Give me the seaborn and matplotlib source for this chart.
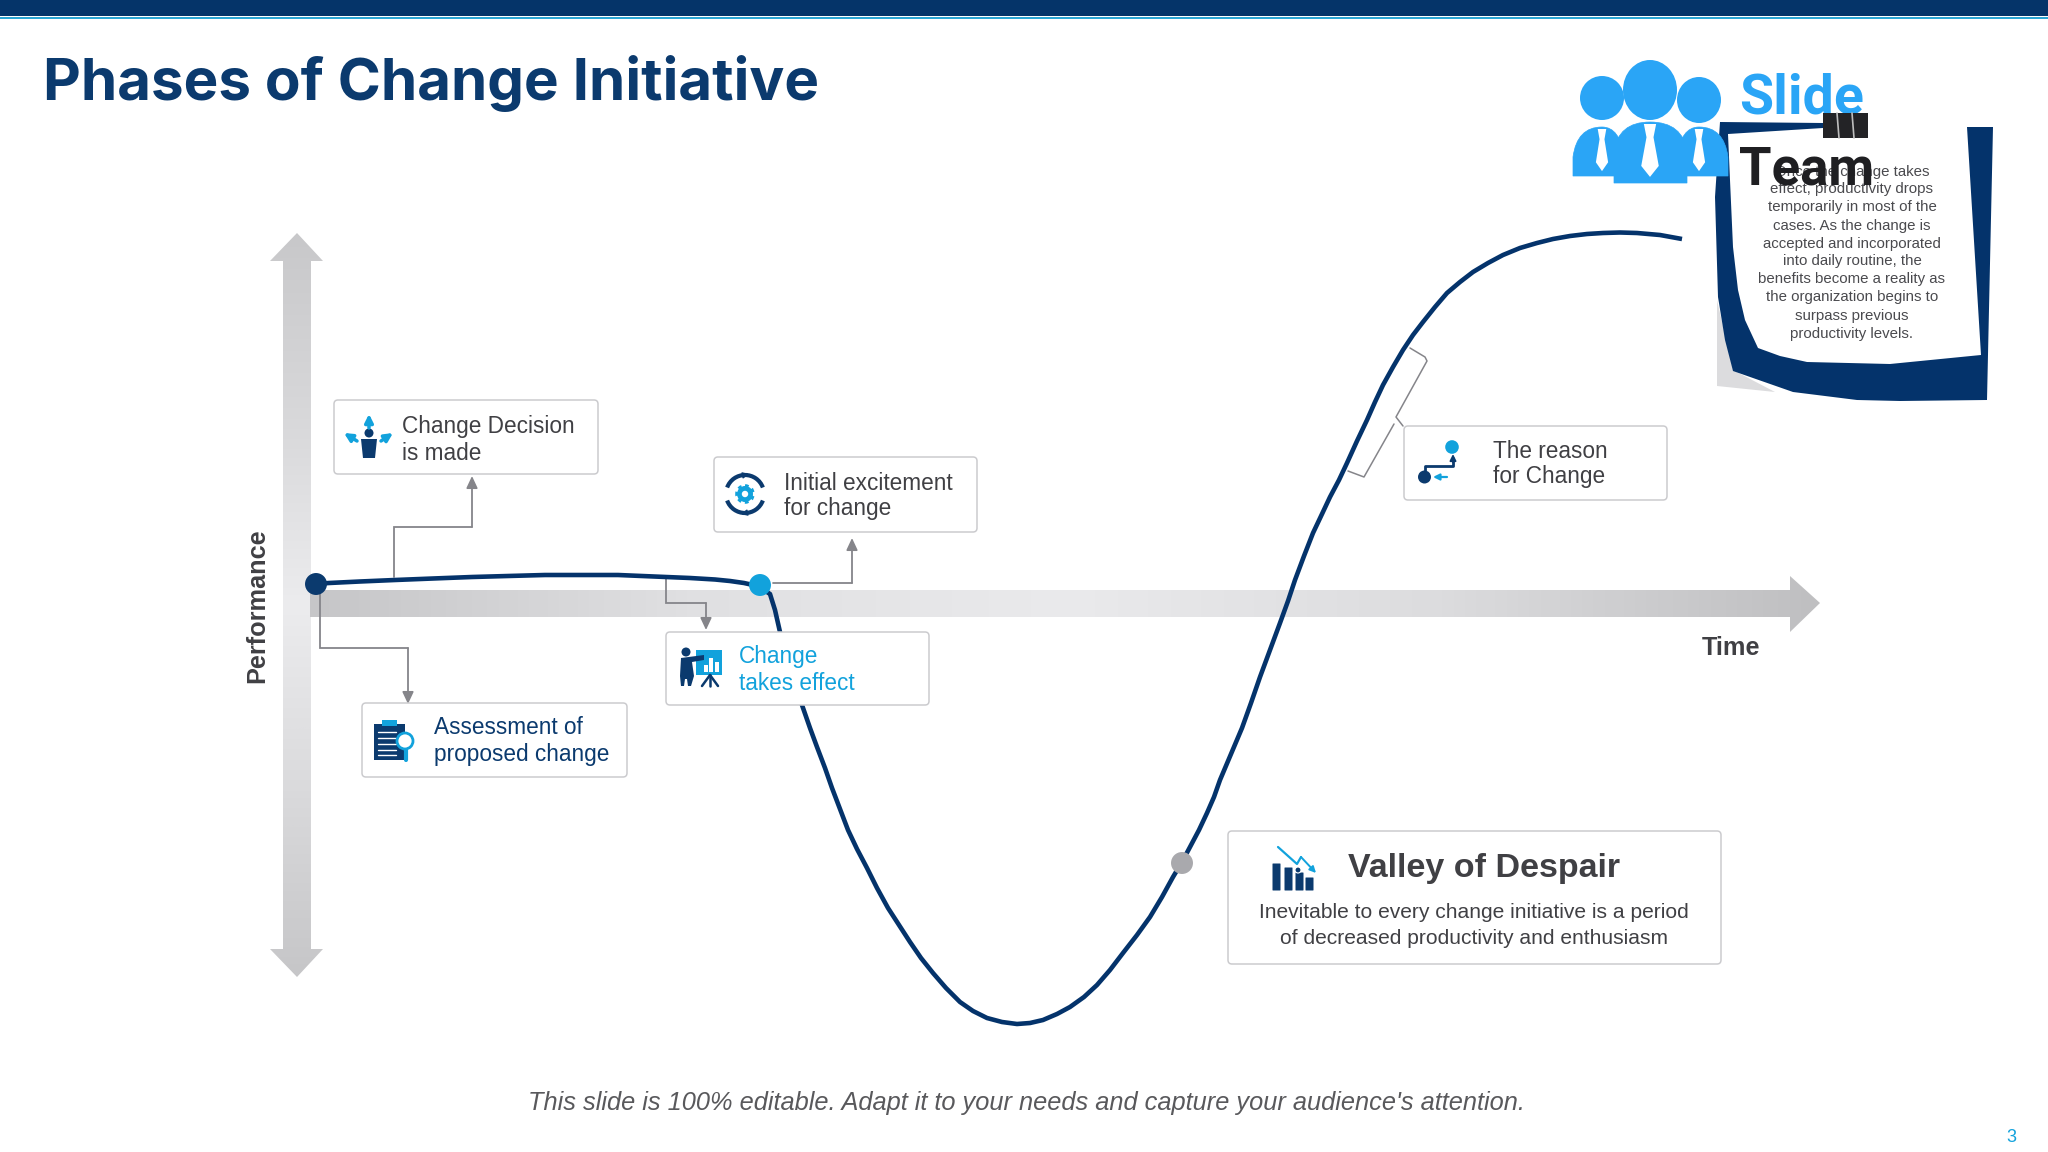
import numpy as np
import pandas as pd
import matplotlib
matplotlib.use("Agg")
import matplotlib.pyplot as plt
import seaborn as sns
from matplotlib.colors import LinearSegmentedColormap
from matplotlib.patches import Arc, Circle, Ellipse, FancyArrowPatch, FancyBboxPatch, PathPatch, Polygon, Rectangle
from matplotlib.path import Path

NAVY = "#0b3a6e"
DARK_NAVY = "#04336b"
CYAN = "#12a2dc"
LOGO_BLUE = "#2aa5f6"
GREY_TEXT = "#404044"
LINE_GREY = "#85858a"

# curve, in picture pixels
curve_time = [316, 329, 360, 395, 433, 472, 508, 545, 582, 618, 642, 666, 690, 715, 730, 744, 753, 761, 767,
              770, 775, 780, 790, 802, 810, 817, 825, 832, 840, 848, 857, 867, 877, 888, 899, 910, 921, 933,
              946, 960, 973, 987, 1002, 1017, 1030, 1043, 1057, 1070, 1084, 1097, 1110, 1123, 1137, 1150,
              1162, 1173, 1182, 1190, 1199, 1207, 1214, 1220, 1231, 1242, 1251, 1260, 1270, 1280, 1288, 1295,
              1304, 1313, 1322, 1330, 1339, 1347, 1357, 1367, 1375, 1383, 1393, 1403, 1413, 1423, 1435, 1447,
              1460, 1473, 1488, 1503, 1520, 1537, 1553, 1570, 1587, 1603, 1620, 1637, 1660, 1682]
curve_performance = [584, 583, 581.5, 580, 578.5, 577, 576, 575, 575, 575, 576, 577, 578, 579.5, 581, 583, 585,
                     588, 592, 594, 610, 632, 670, 705, 728, 747, 768, 788, 809, 830, 849, 868, 888, 908, 925,
                     942, 958, 973, 988, 1002, 1011, 1018, 1022, 1024, 1023, 1020, 1014, 1007, 997, 985, 970,
                     953, 935, 917, 897, 877, 862, 847, 830, 813, 797, 780, 754, 728, 703, 677, 650, 623, 601,
                     580, 556, 533, 514, 497, 480, 463, 441, 420, 402, 385, 367, 350, 335, 322, 307, 293, 282,
                     272, 263, 255, 248, 243, 239, 236, 234, 233, 232.5, 233, 235, 239]

milestone_names = ["Start", "Change", "Valley"]
milestone_time = [316, 760, 1182]
milestone_performance = [584, 585, 863]
milestone_colors = ["#0b3a6e", "#12a2dc", "#a9a9ad"]

note_lines = ["Once the change takes", "effect, productivity drops", "temporarily in most of the",
              "cases. As the change is", "accepted and incorporated", "into daily routine, the",
              "benefits become a reality as", "the organization begins to", "surpass previous",
              "productivity levels."]
note_line_y = [172, 189, 207, 226, 244, 261, 279, 297, 316, 334]


def box(ax, x0, y0, x1, y1):
    ax.add_patch(FancyBboxPatch((x0 + 3, y0 + 3), x1 - x0 - 6, y1 - y0 - 6, boxstyle="round,pad=3,rounding_size=4",
                                fc="white", ec="#cbcbce", lw=1.1, zorder=4))


def label(ax, x, y, text, color=GREY_TEXT, size=16.3, **kw):
    kw.setdefault("ha", "left")
    ax.text(x, y, text, color=color, fontsize=size, va="center", zorder=7, **kw)


def elbow(ax, pts):
    xs, ys = zip(*pts)
    ax.plot(xs[:-1], ys[:-1], color=LINE_GREY, lw=1.3, zorder=2, solid_joinstyle="miter")
    ax.annotate("", xy=pts[-1], xytext=pts[-2], zorder=2,
                arrowprops=dict(arrowstyle="-|>,head_width=0.28,head_length=0.6", color=LINE_GREY, lw=1.3,
                                shrinkA=0, shrinkB=0))


def gradient(ax, outline, extent, stops, vertical=False):
    cmap = LinearSegmentedColormap.from_list("axis_bar", stops)
    ramp = np.linspace(0, 1, 400)
    ramp = ramp[:, None] if vertical else ramp[None, :]
    im = ax.imshow(ramp, extent=extent, cmap=cmap, vmin=0, vmax=1, aspect="auto", zorder=1)
    im.set_clip_path(Polygon(outline, closed=True, transform=ax.transData))


def small_arrow(ax, a, b, color, lw=2.2, scale=11):
    ax.add_patch(FancyArrowPatch(a, b, arrowstyle="-|>", mutation_scale=scale, color=color, lw=lw,
                                 shrinkA=0, shrinkB=0, zorder=6))


def person_logo(ax, cx, head_y, head_rx, head_ry, x0, x1, top, bottom, zorder=8):
    ax.add_patch(Ellipse((cx, head_y), 2 * head_rx, 2 * head_ry, fc=LOGO_BLUE, ec="none", zorder=zorder))
    codes = [Path.MOVETO, Path.LINETO, Path.CURVE3, Path.CURVE3, Path.CURVE3, Path.CURVE3, Path.LINETO, Path.CLOSEPOLY]
    verts = [(x0, bottom), (x0, top + 30), (x0 + 4, top), (cx, top), (x1 - 4, top), (x1, top + 30), (x1, bottom), (x0, bottom)]
    ax.add_patch(PathPatch(Path(verts, codes), fc=LOGO_BLUE, ec=LOGO_BLUE, lw=0.5, zorder=zorder))
    w = (x1 - x0) * 0.12
    h = bottom - top
    tie = [(cx - w * 0.7, top + 2), (cx + w * 0.7, top + 2), (cx + w * 0.4, top + h * 0.25), (cx + w, top + h * 0.72),
           (cx, top + h * 0.9), (cx - w, top + h * 0.72), (cx - w * 0.4, top + h * 0.25)]
    ax.add_patch(Polygon(tie, closed=True, fc="white", ec="none", zorder=zorder + 0.1))


def draw_icons(ax):
    # change decision
    ax.add_patch(Circle((369, 433), 4.5, fc=NAVY, ec="none", zorder=6))
    ax.add_patch(Polygon([(361, 439), (377, 439), (375, 458), (363, 458)], closed=True, fc=NAVY, ec="none", zorder=6))
    small_arrow(ax, (369, 428), (369, 414), CYAN, scale=12, lw=2.5)
    small_arrow(ax, (357, 441), (344, 433), CYAN, scale=12, lw=2.5)
    small_arrow(ax, (381, 441), (393, 433), CYAN, scale=12, lw=2.5)
    # initial excitement
    ax.add_patch(Arc((745, 494), 38, 38, theta1=200, theta2=340, color=NAVY, lw=3, zorder=6))
    ax.add_patch(Arc((745, 494), 38, 38, theta1=20, theta2=160, color=NAVY, lw=3, zorder=6))
    small_arrow(ax, (735, 477), (749, 474), NAVY, scale=9, lw=1)
    small_arrow(ax, (755, 511), (741, 514), NAVY, scale=9, lw=1)
    ax.add_patch(Circle((745, 494), 8, fc=CYAN, ec=CYAN, lw=2.6, ls=(0, (1, 1)), zorder=6))
    ax.add_patch(Circle((745, 494), 3.2, fc="white", ec="none", zorder=6.1))
    # change takes effect
    ax.add_patch(Rectangle((696, 650), 26, 25, fc=CYAN, ec="none", zorder=6))
    for x, top in zip([704, 709, 715], [665, 658, 662]):
        ax.add_patch(Rectangle((x, top), 3.5, 672 - top, fc="white", ec="none", zorder=6.1))
    ax.add_patch(Circle((686, 652), 4.5, fc=NAVY, ec="none", zorder=6.1))
    ax.add_patch(Polygon([(681, 658), (704, 655), (704, 660), (692, 662), (694, 676), (691, 686), (688, 686), (687, 679),
                          (685, 679), (684, 686), (681, 686), (680, 676)], closed=True, fc=NAVY, ec="none", zorder=6.1))
    ax.plot([710, 702], [675, 686], color=NAVY, lw=1.8, zorder=6)
    ax.plot([710, 718], [675, 686], color=NAVY, lw=1.8, zorder=6)
    ax.plot([710, 710], [675, 686], color=NAVY, lw=1.8, zorder=6)
    # assessment
    ax.add_patch(Rectangle((374, 724), 31, 36, fc=NAVY, ec="none", zorder=6))
    ax.add_patch(Rectangle((382, 720), 15, 6, fc=CYAN, ec="none", zorder=6.1))
    for y in [732, 738, 744, 750, 755]:
        ax.plot([378, 396], [y, y], color="white", lw=1, zorder=6.1)
    ax.plot([406, 406], [748, 760], color=CYAN, lw=3, zorder=6.1)
    ax.add_patch(Circle((405, 741), 8, fc="white", ec=CYAN, lw=2, zorder=6.2))
    # reason for change
    ax.add_patch(Circle((1452, 447), 6.8, fc=CYAN, ec="none", zorder=6))
    ax.add_patch(Circle((1424.5, 477), 6.5, fc=NAVY, ec="none", zorder=6))
    ax.plot([1424.5, 1424.5, 1453, 1453], [475, 466, 466, 458], color=NAVY, lw=2, zorder=6)
    small_arrow(ax, (1453, 462), (1453, 454), NAVY, scale=9, lw=1.4)
    small_arrow(ax, (1447, 477), (1433, 477), CYAN, scale=9, lw=1.6)
    # valley
    for x, top in zip([1273, 1285, 1296, 1306], [864, 868, 873, 878]):
        ax.add_patch(FancyBboxPatch((x, top), 7, 890 - top, boxstyle="round,pad=0.5", fc=NAVY, ec="none", zorder=6))
    ax.plot([1278, 1297, 1301], [847, 864, 857], color=CYAN, lw=1.6, zorder=6)
    small_arrow(ax, (1301, 857), (1316, 873), CYAN, scale=9, lw=1.4)
    ax.add_patch(Circle((1298, 870), 3, fc=NAVY, ec="white", lw=0.8, zorder=6.2))


def main():
    sns.set_theme(style="white")
    plt.rcParams["font.family"] = ["Liberation Sans", "DejaVu Sans"]

    curve = pd.DataFrame({"time": curve_time, "performance": curve_performance})
    milestones = pd.DataFrame({"name": milestone_names, "time": milestone_time, "performance": milestone_performance})

    fig = plt.figure(figsize=(20.48, 11.52), dpi=100, facecolor="white")
    ax = fig.add_axes([0, 0, 1, 1])

    # header band
    ax.add_patch(Rectangle((0, 0), 2048, 15.5, fc="#053469", ec="none", zorder=1))
    ax.add_patch(Rectangle((0, 16.5), 2048, 2.5, fc="#2aa6d4", ec="none", zorder=1))
    ax.text(43, 83, "Phases of Change Initiative", color=NAVY, fontsize=42, family="Inter", fontweight="bold",
            va="center", ha="left", zorder=7)

    # gradient axis arrows
    v_outline = [(297, 233), (323, 261), (311, 261), (311, 949), (323, 949), (297, 977), (270, 949), (283, 949),
                 (283, 261), (270, 261)]
    gradient(ax, v_outline, (270, 323, 977, 233), ["#c8c8ca", "#d8d8da", "#ececee", "#dadadc", "#c6c6c8"], vertical=True)
    h_outline = [(310, 590), (1790, 590), (1790, 576), (1820, 603), (1790, 632), (1790, 617), (310, 617)]
    gradient(ax, h_outline, (310, 1820, 632, 576), ["#c6c6c8", "#e0e0e2", "#eaeaec", "#dcdcde", "#bfbfc1"])

    # connectors
    elbow(ax, [(394, 577), (394, 527), (472, 527), (472, 476)])
    elbow(ax, [(773, 583), (852, 583), (852, 538)])
    elbow(ax, [(666, 578), (666, 603), (706, 603), (706, 630)])
    elbow(ax, [(320, 584), (320, 648), (408, 648), (408, 704)])
    ax.plot([1410, 1425, 1427, 1396, 1403], [348, 357, 361, 417, 426], color=LINE_GREY, lw=1.1, zorder=2)
    ax.plot([1394, 1364, 1348], [424, 477, 471], color=LINE_GREY, lw=1.1, zorder=2)

    sns.lineplot(data=curve, x="time", y="performance", sort=False, estimator=None, color=DARK_NAVY, lw=3.3,
                 ax=ax, zorder=3, solid_capstyle="butt", solid_joinstyle="round")
    sns.scatterplot(data=milestones, x="time", y="performance", hue="name", palette=milestone_colors, s=250,
                    linewidth=0, legend=False, ax=ax, zorder=5)

    # boxes
    box(ax, 334, 400, 598, 474)
    box(ax, 714, 457, 977, 532)
    box(ax, 666, 632, 929, 705)
    box(ax, 362, 703, 627, 777)
    box(ax, 1404, 426, 1667, 500)
    box(ax, 1228, 831, 1721, 964)

    label(ax, 402, 427, "Change Decision")
    label(ax, 402, 453, "is made")
    label(ax, 784, 483, "Initial excitement")
    label(ax, 784, 509, "for change")
    label(ax, 739, 657, "Change", color=CYAN)
    label(ax, 739, 683, "takes effect", color=CYAN)
    label(ax, 434, 728, "Assessment of", color=NAVY)
    label(ax, 434, 754, "proposed change", color=NAVY)
    label(ax, 1493, 451, "The reason")
    label(ax, 1493, 477, "for Change")
    label(ax, 1484, 869, "Valley of Despair", size=24.5, fontweight="bold", ha="center")
    label(ax, 1474, 913, "Inevitable to every change initiative is a period", size=15.1, ha="center")
    label(ax, 1474, 938, "of decreased productivity and enthusiasm", size=15.1, ha="center")
    draw_icons(ax)

    label(ax, 257, 606, "Performance", size=18.2, fontweight="bold", rotation=90, ha="center")
    label(ax, 1731, 648, "Time", size=18.2, fontweight="bold", ha="center")
    label(ax, 1026, 1103, "This slide is 100% editable. Adapt it to your needs and capture your audience's attention.",
          color="#59595c", size=18.3, style="italic", ha="center")
    label(ax, 2011, 1138, "3", color=CYAN, size=13, ha="center")

    # note paper
    ax.add_patch(Polygon([(1717, 300), (1733, 370), (1775, 392), (1717, 386)], closed=True, fc="#dcdcde", ec="none", zorder=4))
    paper = [(1720, 122), (1823, 123), (1823, 128), (1728, 134), (1730, 180), (1733, 247), (1738, 290), (1745, 320),
             (1758, 348), (1780, 356), (1807, 362), (1890, 364), (1981, 355), (1967, 127), (1993, 127), (1987, 400),
             (1900, 401), (1857, 400), (1793, 392), (1733, 371), (1725, 340), (1718, 297), (1715, 197)]
    ax.add_patch(Polygon(paper, closed=True, fc=DARK_NAVY, ec="none", zorder=5))
    for line, y in zip(note_lines, note_line_y):
        label(ax, 1852, y, line, color="#4a4a4e", size=10.8, ha="center")

    # logo
    person_logo(ax, 1602, 98, 22, 22, 1573, 1624, 127, 176)
    person_logo(ax, 1699, 100, 22, 23, 1677, 1728, 127, 176)
    person_logo(ax, 1650, 90, 27, 30, 1614, 1687, 122, 183, zorder=8.5)
    ax.text(1739, 99, "Slide", color=LOGO_BLUE, fontsize=40, family="Roboto", fontweight="bold", va="center",
            ha="left", zorder=9)
    ax.text(1739, 170, "Team", color="#1f1f22", fontsize=38, family="Roboto", fontweight="bold", va="center",
            ha="left", zorder=9)
    ax.add_patch(Rectangle((1823, 113), 45, 25, fc="#232326", ec="none", zorder=9.5))
    for x in [1837, 1852]:
        ax.plot([x, x + 2], [113, 138], color="#bdbdbd", lw=1.2, zorder=9.6)

    ax.set_xlim(0, 2048)
    ax.set_ylim(1152, 0)
    ax.axis("off")
    fig.savefig("out.png", dpi=100, facecolor="white")
    plt.close(fig)


if __name__ == "__main__":
    main()
